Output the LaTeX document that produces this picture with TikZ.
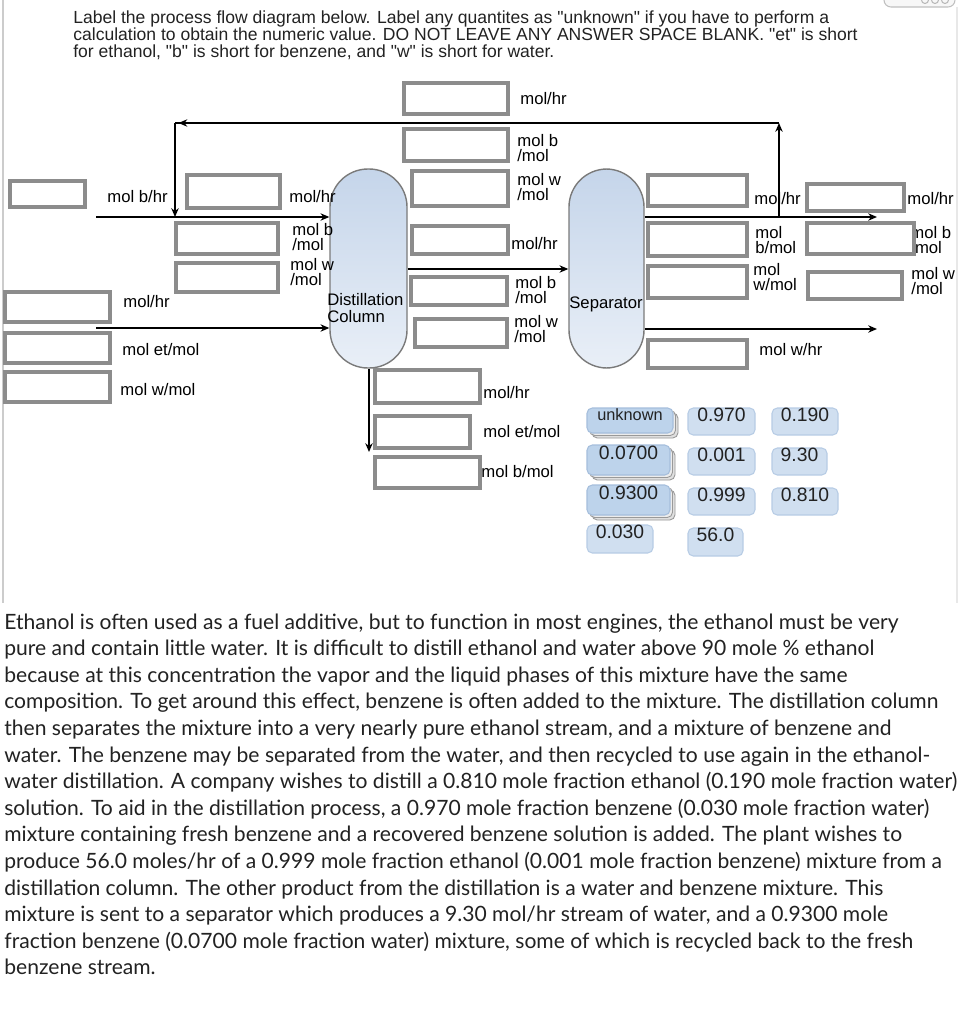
\documentclass[tikz,border=0pt]{standalone}
\usepackage{fontspec}
\setmainfont{Liberation Sans}
\newfontfamily\latofont{Lato}
\usetikzlibrary{arrows.meta,fit,calc}
\definecolor{boxgray}{HTML}{8C8C8C}
\definecolor{vesselgray}{HTML}{7A7A7A}
\definecolor{vtop}{HTML}{C5D5EA}
\definecolor{vbot}{HTML}{E9EFF7}
\definecolor{tokfill}{HTML}{D0DFF0}
\definecolor{tokdraw}{HTML}{B7CCE5}
\definecolor{stkfill}{HTML}{BDD3EB}
\definecolor{stkdraw}{HTML}{A5BEDC}
\definecolor{txt}{HTML}{222222}
\newcommand{\dq}{\textquotedbl}
\begin{document}
\begin{tikzpicture}[x=0.02cm,y=-0.02cm,
  ansbox/.style={draw=boxgray, line width=2pt, inner sep=0pt, fill=white},
  lbl/.style={anchor=west, inner sep=0pt, font=\fontsize{9.5}{8.3}\selectfont, align=left, text=black},
  flow/.style={line width=0.85pt, -{Stealth[length=5pt,width=4.2pt]}},
  vessel/.style={draw=vesselgray, line width=0.8pt, rounded corners=0.76cm, top color=vtop, bottom color=vbot, inner sep=0pt},
  token/.style={draw=tokdraw, line width=0.6pt, fill=tokfill, rounded corners=3pt, inner sep=0pt, text=txt, font=\fontsize{11}{12}\selectfont},
  stoken/.style={token, draw=stkdraw, fill=stkfill},
  shad/.style={draw=gray!80, line width=0.5pt, fill=gray!25, rounded corners=3pt},
  topline/.style={anchor=base west, inner sep=0pt, font=\fontsize{9.98}{10}\selectfont, text=txt},
  para/.style={anchor=base west, inner sep=0pt, font=\latofont\fontsize{12.0}{13}\selectfont, text=txt}
]
\fill[white] (0,0) rectangle (965,1024);
\path[use as bounding box] (0,0) rectangle (965,1024);

% panel frame and corner button
\draw[gray!40, line width=0.6pt] (3,0) -- (3,603);
\draw[gray!18, line width=1.6pt] (957,7) -- (957,603);
\draw[gray!50, line width=0.6pt, fill=gray!6, rounded corners=4pt] (884,-12) rectangle (955,7);
\foreach \dx in {925,935,945}{
  \draw[gray!55, line width=0.6pt] (\dx,0) circle (3.5);
}

% instructions
\node[topline] (h1) at (73,24) {Label the process flow diagram below. Label any quantites as \dq unknown\dq\ if you have to perform a};
\node[topline] (h2) at (73,41) {calculation to obtain the numeric value. DO NOT LEAVE ANY ANSWER SPACE BLANK. \dq et\dq\ is short};
\node[topline] (h3) at (73,58) {for ethanol, \dq b\dq\ is short for benzene, and \dq w\dq\ is short for water.};

% vessels
\node[vessel, fit={(330,169) (407,368)}] (col) {};
\node[vessel, fit={(569,169) (644,368)}] (sep) {};

% streams
\coordinate (fb) at (96,217);
\coordinate (fe) at (96,328);
\draw[flow] (fb) -- (fb -| col.west);
\draw[flow] (fe) -- (fe -| col.west);
\coordinate (midy) at (488,269);
\draw[flow] (midy -| col.east) -- (midy -| sep.west);
\coordinate (sb) at (877,217);
\coordinate (sw) at (877,329);
\draw[flow] (sb -| sep.east) -- (sb);
\draw[flow] (sw -| sep.east) -- (sw);
\coordinate (rs) at (779,217);
\coordinate (rt) at (779,123);
\coordinate (lt) at (175,123);
\coordinate (lb) at (175,217);
\draw[flow] (rs) -- (rt);
\draw[flow, shorten >=2pt] (rt) -- (lt);
\draw[line width=0.85pt] (rt) -- (lt);
\draw[flow] (lt) -- (lb);
\coordinate (bo) at (369,452);
\draw[flow] (col.south -| bo) -- (bo);

% vessel texts
\node[lbl, font=\fontsize{9.5}{9.6}\selectfont] (coltxt) at (327,308) {Distillation\\Column};
\node[lbl] (septxt) at (569,304) {Separator};

% unit labels
\node[lbl] (la) at (107,197) {mol b/hr};
\node[lbl] (lb2) at (289,197) {mol/hr};
\node[lbl] (lc) at (292,237) {mol b\\/mol};
\node[lbl] (ld) at (290,272) {mol w\\/mol};
\node[lbl] (le) at (123,302) {mol/hr};
\node[lbl] (lf) at (122,350) {mol et/mol};
\node[lbl] (lg) at (120,390) {mol w/mol};
\node[lbl] (lh) at (520,99) {mol/hr};
\node[lbl] (li) at (517,148) {mol b\\/mol};
\node[lbl] (lj) at (517,187) {mol w\\/mol};
\node[lbl] (lk) at (511,244) {mol/hr};
\node[lbl] (ll) at (515,290) {mol b\\/mol};
\node[lbl] (lm) at (514,329) {mol w\\/mol};
\node[lbl] (ln) at (483,393) {mol/hr};
\node[lbl] (lo) at (483,432) {mol et/mol};
\node[lbl] (lp) at (481,472) {mol b/mol};
\node[lbl] (lq) at (754,199) {mol/hr};
\node[lbl] (lr) at (907,199) {mol/hr};
\node[lbl] (ls) at (755,240) {mol\\b/mol};
\node[lbl] (lt2) at (910,240) {mol b\\/mol};
\node[lbl] (lu) at (753,277) {mol\\w/mol};
\node[lbl] (lv) at (911,281) {mol w\\/mol};
\node[lbl] (lw) at (759,350) {mol w/hr};

% answer boxes
\node[ansbox, fit={(10,181) (85,207)}] (A) {};
\node[ansbox, fit={(187,175) (280,208)}] (B) {};
\node[ansbox, fit={(176,223) (278,254)}] (C) {};
\node[ansbox, fit={(176,263) (278,292)}] (D) {};
\node[ansbox, fit={(5,292) (110,322)}] (E) {};
\node[ansbox, fit={(5,333) (110,363)}] (F) {};
\node[ansbox, fit={(5,372) (110,402)}] (G) {};
\node[ansbox, fit={(404,83) (508,114)}] (H) {};
\node[ansbox, fit={(404,129) (508,161)}] (I) {};
\node[ansbox, fit={(412,171) (508,206)}] (J) {};
\node[ansbox, fit={(412,226) (508,254)}] (K) {};
\node[ansbox, fit={(411,277) (507,305)}] (L) {};
\node[ansbox, fit={(415,319) (507,347)}] (M) {};
\node[ansbox, fit={(375,370) (480,403)}] (N) {};
\node[ansbox, fit={(375,416) (470,448)}] (O) {};
\node[ansbox, fit={(375,457) (480,488)}] (P) {};
\node[ansbox, fit={(648,175) (747,206)}] (Q) {};
\node[ansbox, fit={(807,184) (904,211)}] (R) {};
\node[ansbox, fit={(648,223) (747,256)}] (S) {};
\node[ansbox, fit={(807,223) (914,254)}] (T) {};
\node[ansbox, fit={(648,266) (747,298)}] (U) {};
\node[ansbox, fit={(808,272) (902,299)}] (V) {};
\node[ansbox, fit={(648,340) (747,368)}] (W) {};

% answer tokens
\foreach \ya/\yb/\xb in {408/433/673, 445/475/670, 485/515/670}{
  \draw[shad] (587+5,\ya+5) rectangle (\xb+5,\yb+5);
  \draw[shad, fill=gray!15] (587+2.5,\ya+2.5) rectangle (\xb+2.5,\yb+2.5);
}
\node[stoken, font=\fontsize{9.3}{10}\selectfont, fit={(587,408) (673,433)}] (k1) {unknown};
\node[stoken, fit={(587,445) (670,475)}] (k2) {0.0700};
\node[stoken, fit={(587,485) (670,515)}] (k3) {0.9300};
\node[token, fit={(587,525) (653,553)}] (k4) {0.030};
\node[token, fit={(688,408) (755,435)}] (k5) {0.970};
\node[token, fit={(688,448) (755,475)}] (k6) {0.001};
\node[token, fit={(688,488) (755,515)}] (k7) {0.999};
\node[token, fit={(688,528) (743,556)}] (k8) {56.0};
\node[token, fit={(772,408) (838,435)}] (k9) {0.190};
\node[token, fit={(772,448) (827,475)}] (k10) {9.30};
\node[token, fit={(772,488) (838,515)}] (k11) {0.810};

% problem statement
\node[para] (p1) at (4,629) {Ethanol is often used as a fuel additive, but to function in most engines, the ethanol must be very};
\node[para] (p2) at (4,655.6) {pure and contain little water. It is difficult to distill ethanol and water above 90 mole \% ethanol};
\node[para] (p3) at (4,682.2) {because at this concentration the vapor and the liquid phases of this mixture have the same};
\node[para] (p4) at (4,708.8) {composition. To get around this effect, benzene is often added to the mixture. The distillation column};
\node[para] (p5) at (4,735.4) {then separates the mixture into a very nearly pure ethanol stream, and a mixture of benzene and};
\node[para] (p6) at (4,762) {water. The benzene may be separated from the water, and then recycled to use again in the ethanol-};
\node[para] (p7) at (4,788.6) {water distillation. A company wishes to distill a 0.810 mole fraction ethanol (0.190 mole fraction water)};
\node[para] (p8) at (4,815.2) {solution. To aid in the distillation process, a 0.970 mole fraction benzene (0.030 mole fraction water)};
\node[para] (p9) at (4,841.8) {mixture containing fresh benzene and a recovered benzene solution is added. The plant wishes to};
\node[para] (p10) at (4,868.4) {produce 56.0 moles/hr of a 0.999 mole fraction ethanol (0.001 mole fraction benzene) mixture from a};
\node[para] (p11) at (4,895) {distillation column. The other product from the distillation is a water and benzene mixture. This};
\node[para] (p12) at (4,921.6) {mixture is sent to a separator which produces a 9.30 mol/hr stream of water, and a 0.9300 mole};
\node[para] (p13) at (4,948.2) {fraction benzene (0.0700 mole fraction water) mixture, some of which is recycled back to the fresh};
\node[para] (p14) at (4,974.8) {benzene stream.};
\end{tikzpicture}
\end{document}
